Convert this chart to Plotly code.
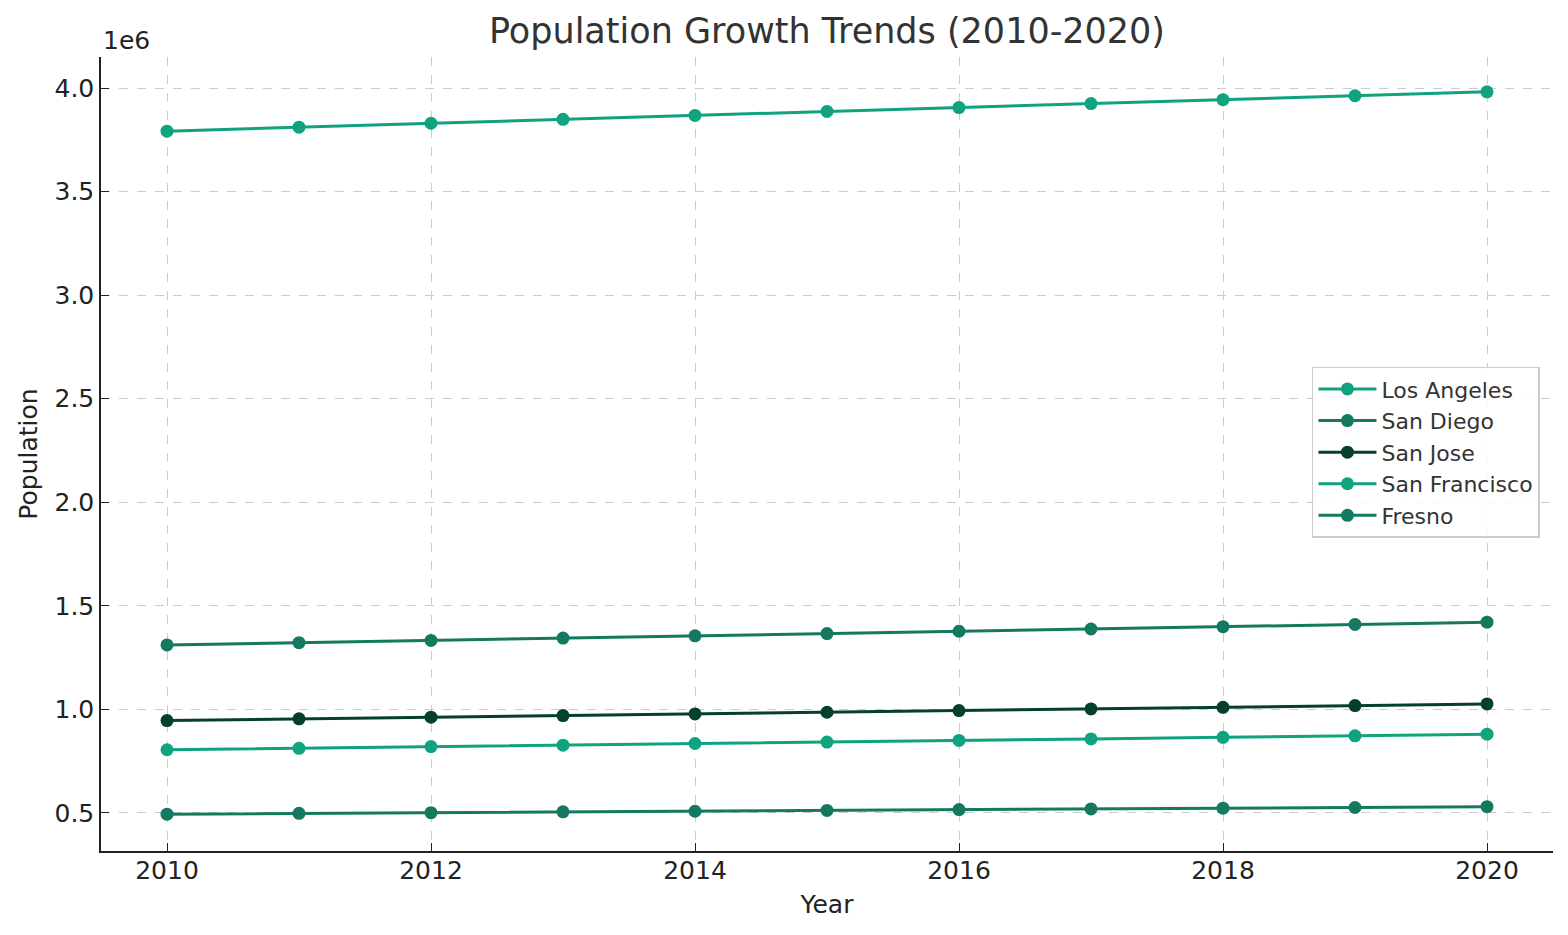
import plotly.graph_objects as go

# Population data
years = [2010, 2011, 2012, 2013, 2014, 2015, 2016, 2017, 2018, 2019, 2020]
los_angeles = [3792000, 3811000, 3830000, 3849000, 3868000, 3887000, 3906000, 3925000, 3944000, 3963000, 3982000]
san_diego = [1311000, 1322000, 1333000, 1344000, 1355000, 1366000, 1377000, 1388000, 1399000, 1410000, 1421000]
san_jose = [946000, 954000, 962000, 970000, 978000, 986000, 994000, 1002000, 1010000, 1018000, 1026000]
san_francisco = [805000, 812000, 820000, 827000, 835000, 842000, 850000, 857000, 865000, 872000, 880000]
fresno = [494000, 498000, 501000, 505000, 508000, 512000, 516000, 519000, 523000, 526000, 530000]

cities = ['Los Angeles', 'San Diego', 'San Jose', 'San Francisco', 'Fresno']
series = [los_angeles, san_diego, san_jose, san_francisco, fresno]
colors = ['#10a37f', '#147a5f', '#05402c', '#10a37f', '#147a5f']

ytick_vals = [500000, 1000000, 1500000, 2000000, 2500000, 3000000, 3500000, 4000000]
ytick_text = ['0.5', '1.0', '1.5', '2.0', '2.5', '3.0', '3.5', '4.0']

fig = go.Figure()
for name, vals, col in zip(cities, series, colors):
    fig.add_trace(go.Scatter(x=years, y=vals, name=name, mode='lines+markers',
                             line=dict(color=col, width=3),
                             marker=dict(color=col, size=13)))

# page adds ~8px body margin, so the figure is a bit smaller than the window
fig.update_layout(
    width=1560, height=927,
    paper_bgcolor='white', plot_bgcolor='white',
    margin=dict(l=93, r=15, t=49, b=84, autoexpand=False),
    font=dict(family='DejaVu Sans', size=25, color='#222222'),
    title=dict(text='Population Growth Trends (2010-2020)', x=0.525, xanchor='center',
               y=0.975, yanchor='middle', font=dict(size=35, color='#333333')),
    xaxis=dict(title=dict(text='Year', standoff=12, font=dict(size=25)), range=[2009.5, 2020.5],
               tickvals=[2010, 2012, 2014, 2016, 2018, 2020], automargin=False,
               ticklabelstandoff=-4,
               showgrid=True, gridcolor='#cccccc', griddash='dash', gridwidth=1,
               showline=True, linecolor='#222222', linewidth=1.5,
               ticks='inside', ticklen=8, tickcolor='#222222', zeroline=False),
    yaxis=dict(title=dict(text='Population', standoff=10, font=dict(size=25)), range=[316000, 4150000],
               tickvals=ytick_vals, ticktext=ytick_text, automargin=False,
               showgrid=True, gridcolor='#cccccc', griddash='dash', gridwidth=1,
               showline=True, linecolor='#222222', linewidth=1.5,
               ticks='inside', ticklen=8, tickcolor='#222222', zeroline=False),
    legend=dict(x=0.834, y=0.61, xanchor='left', yanchor='top', itemwidth=58,
                bgcolor='rgba(255,255,255,0.85)', bordercolor='#cccccc', borderwidth=1.5,
                font=dict(size=22, color='#333333'), tracegroupgap=0),
)

fig.add_annotation(text='1e6', xref='paper', yref='paper', x=0, y=1.0,
                   xanchor='left', yanchor='bottom', showarrow=False,
                   font=dict(size=25, color='#222222'), yshift=0)

fig.write_html("out.html")
